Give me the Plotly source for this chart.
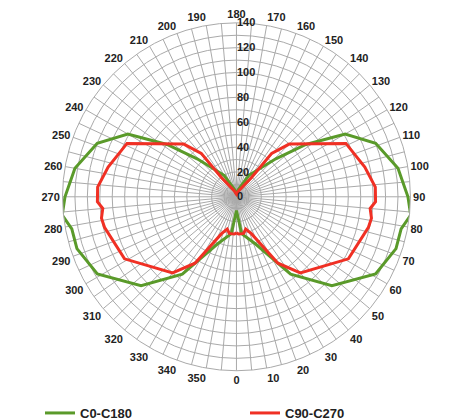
import plotly.graph_objects as go

# half profiles, angle 0..180 (mirrored to 360..180)
angles_c0 = [0, 8, 22, 35, 47, 61, 72, 79, 84, 90, 100, 111, 120, 127, 134, 150, 165, 180]
green_c0 = [11, 30, 41, 76, 105, 128, 135, 135, 141, 138, 132, 120, 101, 70, 44, 20, 6, 2]

angles_c90 = [0, 3, 7, 11, 16, 22, 32, 40, 61, 77, 81, 85, 88, 94, 103, 116, 135, 141, 142, 160, 180]
red_c90 = [29, 30, 30, 30, 27, 32, 63, 80, 103, 109, 110, 108, 112, 112, 106, 98, 60, 45, 20, 5, 2]


def mirror(a, v):
    return a + [360 - x for x in a[::-1]], v + v[::-1]


ga, gv = mirror(angles_c0, green_c0)
ra, rv = mirror(angles_c90, red_c90)

fig = go.Figure()
fig.add_trace(go.Scatterpolar(r=gv, theta=ga, mode="lines", name="<b>C0-C180</b>",
                              line=dict(color="#5a9a2a", width=3)))
fig.add_trace(go.Scatterpolar(r=rv, theta=ra, mode="lines", name="<b>C90-C270</b>",
                              line=dict(color="#f03024", width=3)))

ang_vals = list(range(0, 360, 5))
ang_text = ["<b>%d</b>" % a if a % 10 == 0 else "" for a in ang_vals]
rad_vals = list(range(0, 150, 10))
rad_text = ["<b>%d</b>" % r if r % 20 == 0 else "" for r in rad_vals]

fig.update_layout(
    width=474, height=420,
    margin=dict(l=0, r=0, t=0, b=0),
    paper_bgcolor="white",
    font=dict(family="Liberation Sans", size=11, color="#222"),
    polar=dict(
        domain=dict(x=[0.115, 0.849], y=[0.136, 0.965]),
        bgcolor="white",
        angularaxis=dict(rotation=270, direction="counterclockwise",
                         tickmode="array", tickvals=ang_vals, ticktext=ang_text,
                         gridcolor="#aaa", linecolor="#aaa", ticks=""),
        radialaxis=dict(range=[0, 140], angle=90, tickangle=90,
                        tickmode="array", tickvals=rad_vals, ticktext=rad_text,
                        gridcolor="#aaa", showline=False, ticks=""),
    ),
    legend=dict(orientation="h", x=0.5, xanchor="center", y=0.0, yanchor="bottom",
                font=dict(size=13, color="#222"), entrywidth=160,
                entrywidthmode="pixels"),
)

fig.write_html("out.html")
